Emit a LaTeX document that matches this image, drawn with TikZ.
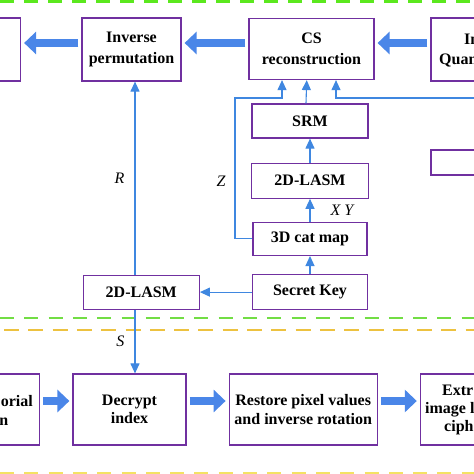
\documentclass[tikz,border=0pt]{standalone}
\usepackage{fontspec}
\setmainfont{Liberation Serif}
\usetikzlibrary{arrows.meta, positioning}
\definecolor{boxpurple}{HTML}{7030A0}
\definecolor{fatblue}{HTML}{4A86E8}
\definecolor{thinblue}{HTML}{3F87E0}
\definecolor{limegreen}{HTML}{5BE81E}
\definecolor{midgreen}{HTML}{72DD44}
\definecolor{golden}{HTML}{EDC240}
\definecolor{paleyellow}{HTML}{F4E264}
\tikzset{
    block/.style={draw=boxpurple, line width=1.2pt, inner sep=0pt, align=center,
                  font=\bfseries\fontsize{16}{20.5}\selectfont},
    lowblock/.style={block, font=\bfseries\fontsize{16}{18.6}\selectfont},
    frag/.style={inner sep=0pt, font=\bfseries\fontsize{16}{19}\selectfont},
    fat/.style={draw=fatblue, line width=8pt, -{Triangle[width=22pt,length=12pt]},
                shorten <=3pt, shorten >=3pt},
    link/.style={draw=thinblue, line width=1.1pt, -{Triangle[width=9pt,length=10pt]}},
    plain/.style={draw=thinblue, line width=1.1pt},
    lab/.style={inner sep=0pt, font=\itshape\fontsize{16}{19}\selectfont}
}

\begin{document}
\begin{tikzpicture}[x=1pt, y=-1pt]
    \useasboundingbox (0,0) rectangle (474,474);
    \clip (0,0) rectangle (474,474);

    % separators
    \draw[limegreen, line width=3.5pt, dash pattern=on 14pt off 10pt] (0,1) -- (474,1);
    \draw[midgreen, line width=1.8pt, dash pattern=on 14pt off 10.3pt] (0,318) -- (474,318);
    \draw[golden, line width=1.8pt, dash pattern=on 15pt off 9.3pt, dash phase=-4pt] (0,330) -- (474,330);
    \draw[paleyellow, line width=3.5pt, dash pattern=on 14pt off 10.3pt] (0,473.5) -- (474,473.5);

    % top row
    \node[block, minimum width=101pt, minimum height=63pt] (inv)  at (-30,49.5) {};
    \node[block, minimum width=99pt,  minimum height=63pt] (perm) at (131.5,49.5) {Inverse\\permutation};
    \node[block, minimum width=125pt, minimum height=61pt] (cs)   at (311.5,49) {CS\\reconstruction};
    \node[block, minimum width=110pt, minimum height=63pt] (iq)   at (486,49.5) {};
    \node[frag, anchor=base west] (iq1) at (464,44) {In};
    \node[frag, anchor=base west] (iq2) at (439,64) {Quan};

    % key stack
    \node[block, minimum width=116pt, minimum height=34pt] (srm)   at (310,121) {SRM};
    \node[block, minimum width=117pt, minimum height=35pt] (lasmb) [below=24pt of srm] {2D-LASM};
    \node[block, minimum width=114pt, minimum height=33pt] (cat)   [below=23pt of lasmb] {3D cat map};
    \node[block, minimum width=115pt, minimum height=35pt] (key)   [below=18pt of cat] {Secret Key};
    \node[block, minimum width=116pt, minimum height=34pt] (lasma) [left=52pt of key] {2D-LASM};
    \node[block, minimum width=110pt, minimum height=25pt] (side)  at (486,162.5) {};

    % bottom row
    \node[lowblock, minimum width=113pt, minimum height=71pt] (dec)  at (129.5,409.5) {Decrypt\\index};
    \node[lowblock, minimum width=110pt, minimum height=71pt] (comb) [left=32pt of dec] {};
    \node[lowblock, minimum width=148pt, minimum height=71pt] (rest) [right=42pt of dec] {Restore pixel values\\and inverse rotation};
    \node[lowblock, minimum width=110pt, minimum height=71pt] (extr) [right=42pt of rest] {};
    \node[frag, anchor=base east] (cb1) at (33,406) {porial};
    \node[frag, anchor=base east] (cb2) at (8.5,425) {n};
    \node[frag, anchor=base west] (ex1) at (442,395) {Extr};
    \node[frag, anchor=base west] (ex2) at (425,413) {image l};
    \node[frag, anchor=base west] (ex3) at (444,431) {ciph};

    % block arrows
    \draw[fat] (perm.west |- 0,43) -- (inv.east |- 0,43);
    \draw[fat] (cs.west |- 0,43)   -- (perm.east |- 0,43);
    \draw[fat] (iq.west |- 0,43)   -- (cs.east |- 0,43);
    \draw[fat] (comb.east |- 0,401) -- (dec.west |- 0,401);
    \draw[fat] (dec.east |- 0,401)  -- (rest.west |- 0,401);
    \draw[fat] (rest.east |- 0,401) -- (extr.west |- 0,401);

    % thin links
    \coordinate (rx)   at (135,0);
    \coordinate (zbus) at (235,98);
    \coordinate (qbus) at (480,98);
    \draw[link] (rx |- lasma.north) -- (rx |- perm.south) node[lab, pos=0.5, left=10pt] (r) {R};
    \draw[link] (rx |- lasma.south) -- (rx |- dec.north)  node[lab, pos=0.5, left=10pt] (s) {S};
    \draw[link] (key.west) -- (lasma.east);
    \draw[link] (key.north) -- (cat.south);
    \draw[link] (cat.north) -- (lasmb.south) node[lab, pos=0.5, right=20pt] (xy) {X Y};
    \draw[link] (lasmb.north) -- (srm.south);
    \draw[link] ([xshift=-4pt]srm.north) -- ([xshift=-4.8pt]cs.south);
    \draw[link] (cat.west) -| (zbus) -| ([xshift=-29.5pt]cs.south);
    \draw[link] (qbus) -| ([xshift=24.5pt]cs.south);
    \node[lab] (z) at (221,181) {Z};
\end{tikzpicture}
\end{document}
